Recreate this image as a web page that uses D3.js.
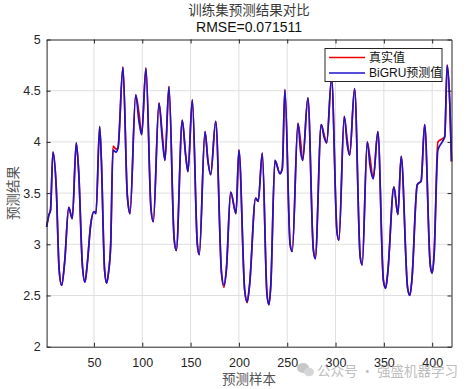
<!DOCTYPE html>
<html>
<head>
<meta charset="utf-8">
<script src="https://cdn.jsdelivr.net/npm/d3@7"></script>
<style>
  body { margin: 0; background: #fff; }
  text { font-family: "Liberation Sans", Arial, "Noto Sans CJK SC", sans-serif; }
  .cjk { font-family: "Noto Sans CJK SC", sans-serif; }
</style>
</head>
<body>
<svg id="chart"></svg>
<script>
// key samples (sample index, true value, BiGRU prediction)
var sampleIdx = [1, 3.5, 5, 7.6, 11, 14, 16.6, 19.7, 23.9, 27.6, 31.7, 34.2, 38, 40.7, 43, 46.6, 50, 52.1, 55.9, 57.6,
  61, 63.2, 65, 67.3, 69.7, 72.8, 74.9, 80, 84.5, 85.5, 87.3, 93.2, 96.6, 99.4, 103.8, 109, 111.4, 117.3, 120.7, 123.5,
  127.6, 133, 135.2, 141.4, 144.9, 147.3, 151.8, 157, 159, 164.9, 168, 170.8, 176, 182, 184.5, 187, 191.5, 197, 200,
  206, 208.6, 211, 217.3, 220, 224.2, 229, 231.1, 233, 237.3, 242.5, 244.9, 247.6, 253, 255.2, 261.1, 263.9, 266,
  271.4, 277, 279, 285.2, 288, 290.8, 295.9, 301.5, 303.5, 309, 312.1, 314.6, 319.7, 325.5, 327.6, 332.8, 335.6, 339,
  343.8, 349.5, 351.8, 354, 360.4, 364.5, 367.9, 374.5, 376.9, 379, 384.5, 388.6, 392.2, 398, 400, 402, 405.9, 410.4,
  413, 415.5, 418.3, 420];
var trueVals = [3.17, 3.29, 3.33, 3.90, 3.55, 2.75, 2.60, 2.83, 3.36, 3.25, 3.99, 3.71, 2.80, 2.63, 2.80, 3.19, 3.32, 3.30, 4.15, 3.84,
  2.75, 2.62, 2.72, 2.99, 3.96, 3.93, 3.94, 4.73, 3.48, 3.38, 3.30, 4.46, 4.28, 4.07, 4.72, 3.35, 3.22, 4.38, 4.08, 3.82,
  4.54, 3.05, 2.94, 4.21, 3.87, 3.71, 4.41, 3.00, 2.90, 4.10, 3.81, 3.68, 4.20, 2.72, 2.58, 2.75, 3.51, 3.30, 3.92,
  2.55, 2.43, 2.60, 3.45, 3.42, 3.89, 2.52, 2.41, 2.60, 3.82, 3.69, 3.74, 4.51, 3.00, 2.93, 4.18, 4.00, 3.82,
  4.43, 2.95, 2.86, 4.17, 4.08, 3.99, 4.62, 3.12, 3.04, 4.25, 4.02, 3.87, 4.52, 2.88, 2.80, 4.00, 3.85, 3.64,
  4.10, 2.65, 2.57, 2.72, 3.56, 3.29, 3.86, 2.58, 2.50, 2.65, 3.58, 3.62, 4.17, 2.80, 2.72, 2.90, 4.00, 4.03,
  4.05, 4.75, 4.36, 3.81];
var predVals = [3.17, 3.29, 3.33, 3.90, 3.55, 2.75, 2.60, 2.83, 3.36, 3.25, 3.99, 3.71, 2.80, 2.63, 2.80, 3.19, 3.32, 3.30, 4.15, 3.84,
  2.75, 2.62, 2.72, 2.99, 3.92, 3.90, 3.94, 4.73, 3.48, 3.38, 3.30, 4.46, 4.20, 4.07, 4.72, 3.35, 3.22, 4.38, 4.03, 3.82,
  4.54, 3.05, 2.94, 4.21, 3.87, 3.71, 4.41, 3.00, 2.90, 4.10, 3.81, 3.68, 4.20, 2.72, 2.60, 2.75, 3.51, 3.30, 3.92,
  2.55, 2.44, 2.60, 3.45, 3.42, 3.89, 2.52, 2.41, 2.60, 3.82, 3.69, 3.74, 4.51, 3.00, 2.93, 4.18, 3.90, 3.82,
  4.43, 2.95, 2.86, 4.17, 4.05, 3.99, 4.62, 3.12, 3.04, 4.25, 3.97, 3.87, 4.52, 2.88, 2.80, 4.00, 3.77, 3.64,
  4.10, 2.65, 2.57, 2.72, 3.56, 3.29, 3.86, 2.58, 2.50, 2.65, 3.58, 3.62, 4.17, 2.80, 2.72, 2.90, 3.92, 4.00,
  4.05, 4.75, 4.36, 3.81];
var xTicks = [50, 100, 150, 200, 250, 300, 350, 400];
var yTicks = [2, 2.5, 3, 3.5, 4, 4.5, 5];
var legendNames = ["真实值", "BiGRU预测值"];
var seriesColors = ["#f00000", "#1c14cc"];

var width = 474, height = 389;
var margin = {top: 39.5, right: 22.5, bottom: 42.3, left: 46.6};

var svg = d3.select("#chart").attr("width", width).attr("height", height);
svg.append("rect").attr("width", width).attr("height", height).attr("fill", "#fff");

var x = d3.scaleLinear().domain([1, 420]).range([margin.left, width - margin.right]);
var y = d3.scaleLinear().domain([2, 5]).range([height - margin.bottom, margin.top]);

// grid
var grid = svg.append("g").attr("stroke", "#dfdfdf").attr("stroke-width", 1);
grid.selectAll(".gx").data(xTicks).join("line")
  .attr("x1", d => x(d)).attr("x2", d => x(d))
  .attr("y1", y(2)).attr("y2", y(5));
grid.selectAll(".gy").data(yTicks.slice(1, -1)).join("line")
  .attr("x1", x(1)).attr("x2", x(420))
  .attr("y1", d => y(d)).attr("y2", d => y(d));

// series
var rows = sampleIdx.map((s, i) => ({s: s, t: trueVals[i], p: predVals[i]}));
var plot = svg.append("g");
var lineTrue = d3.line().x(d => x(d.s)).y(d => y(d.t)).curve(d3.curveMonotoneX);
var linePred = d3.line().x(d => x(d.s)).y(d => y(d.p)).curve(d3.curveMonotoneX);
plot.append("path").datum(rows).attr("d", lineTrue)
  .attr("fill", "none").attr("stroke", seriesColors[0]).attr("stroke-width", 1.7);
plot.append("path").datum(rows).attr("d", linePred)
  .attr("fill", "none").attr("stroke", seriesColors[1]).attr("stroke-width", 1.7);

// axes
var axisCol = "#262626";
function styleAxis(g) {
  g.select(".domain").attr("stroke", axisCol);
  g.selectAll(".tick line").attr("stroke", axisCol);
  g.selectAll(".tick text").attr("fill", axisCol).attr("font-size", 12.5);
}
svg.append("g").attr("transform", "translate(0," + y(2) + ")")
  .call(d3.axisBottom(x).tickValues(xTicks).tickSize(-4).tickPadding(11).tickSizeOuter(0))
  .call(styleAxis);
svg.append("g").attr("transform", "translate(0," + y(5) + ")")
  .call(d3.axisTop(x).tickValues(xTicks).tickSize(-4).tickFormat("").tickSizeOuter(0))
  .call(styleAxis);
svg.append("g").attr("transform", "translate(" + x(1) + ",0)")
  .call(d3.axisLeft(y).tickValues(yTicks).tickSize(-4).tickPadding(6).tickSizeOuter(0).tickFormat(d3.format("~g")))
  .call(styleAxis);
svg.append("g").attr("transform", "translate(" + x(420) + ",0)")
  .call(d3.axisRight(y).tickValues(yTicks).tickSize(-4).tickFormat("").tickSizeOuter(0))
  .call(styleAxis);

// titles
var cx = (x(1) + x(420)) / 2;
svg.append("text").attr("class", "cjk").attr("x", cx).attr("y", 14.5)
  .attr("text-anchor", "middle").attr("font-size", 13.5).attr("fill", "#3a3a3a")
  .text("训练集预测结果对比");
svg.append("text").attr("x", cx).attr("y", 31.5)
  .attr("text-anchor", "middle").attr("font-size", 14).attr("fill", "#111")
  .text("RMSE=0.071511");
svg.append("text").attr("class", "cjk").attr("x", cx).attr("y", 384)
  .attr("text-anchor", "middle").attr("font-size", 13.5).attr("fill", "#555")
  .text("预测样本");
svg.append("text").attr("class", "cjk")
  .attr("transform", "translate(18," + ((y(2) + y(5)) / 2) + ") rotate(-90)")
  .attr("text-anchor", "middle").attr("font-size", 13.5).attr("fill", "#555")
  .text("预测结果");

// legend
var lg = svg.append("g").attr("transform", "translate(325,48.5)");
lg.append("rect").attr("width", 117).attr("height", 33)
  .attr("fill", "#fff").attr("stroke", axisCol).attr("stroke-width", 1);
legendNames.forEach(function (name, i) {
  var ly = 9 + i * 15.5;
  lg.append("line").attr("x1", 4).attr("x2", 40).attr("y1", ly).attr("y2", ly)
    .attr("stroke", seriesColors[i]).attr("stroke-width", 1.7);
  lg.append("text").attr("x", 44).attr("y", ly + 4.3).attr("font-size", 12)
    .attr("fill", "#111").text(name);
});

// watermark
var wm = svg.append("g").attr("opacity", 0.55);
wm.append("ellipse").attr("cx", 303).attr("cy", 368).attr("rx", 6).attr("ry", 5).attr("fill", "#9a9a9a");
wm.append("ellipse").attr("cx", 309).attr("cy", 372).attr("rx", 5).attr("ry", 4.2).attr("fill", "#b5b5b5");
wm.append("text").attr("class", "cjk").attr("x", 317).attr("y", 376)
  .attr("font-size", 13.5).attr("fill", "#8a8a8a").text("公众号 · 强盛机器学习");
</script>
</body>
</html>
